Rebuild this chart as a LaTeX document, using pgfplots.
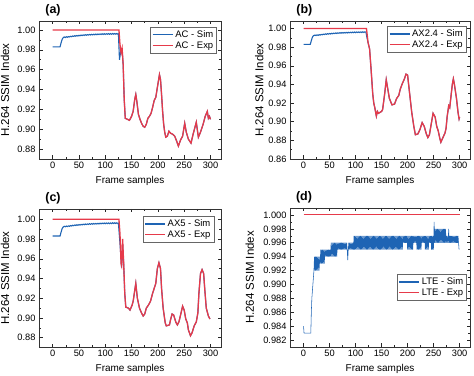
\documentclass[border=0pt]{standalone}
\usepackage{fontspec}
\setmainfont{Liberation Sans}
\usepackage{pgfplots}
\pgfplotsset{compat=1.18}
\definecolor{simblue}{RGB}{30,100,180}
\definecolor{expred}{RGB}{230,58,74}
\pgfplotsset{
  panel/.style={
    scale only axis,
    anchor=south west,
    clip mode=individual,
    tick align=inside,
    minor x tick num=1,
    minor y tick num=1,
    major tick length=3.5bp,
    minor tick length=2bp,
    every tick/.style={black!85, line width=0.5bp},
    axis line style={line width=0.6bp, black!80},
    tick label style={font=\fontsize{9.3}{10}\selectfont},
    /pgf/number format/assume math mode=true,
    scaled y ticks=false,
    xtick={0,50,100,150,200,250,300},
    xmin=-26, xmax=320,
    xlabel={Frame samples},
    xlabel style={font=\fontsize{10}{11}\selectfont, at={(axis description cs:0.5,-0.16)}, anchor=center},
    ylabel={H.264 SSIM Index},
    ylabel style={font=\fontsize{11.5}{13}\selectfont, anchor=center},
    y tick label style={/pgf/number format/.cd, fixed, fixed zerofill, precision=2},
    legend cell align=left,
    legend style={draw=black!60, line width=0.5bp, font=\fontsize{9.5}{10}\selectfont, inner sep=1.5bp, row sep=-1.5bp},
    legend image code/.code={\draw[#1, line width=1.3bp] (0bp,0bp) -- (20bp,0bp);},
  },
  simline/.style={simblue, line width=1.1bp},
  expline/.style={expred, line width=1.3bp},
}
\begin{document}
\begin{tikzpicture}
\path[use as bounding box] (0,0) rectangle (474bp,376bp);

% ---------------- (a) ----------------
\begin{axis}[panel, at={(39bp,217bp)}, width=182bp, height=138bp,
  ymin=0.870, ymax=1.009, ytick={0.88,0.90,0.92,0.94,0.96,0.98,1.00},
  ylabel style={at={(axis description cs:-0.187,0.5)}},
  legend style={at={(axis description cs:0.978,0.957)}, anchor=north east}]
\addplot[simline] coordinates {
(0,0.983)(14,0.983)(16,0.987)(18,0.9905)
(20,0.9922)(22,0.9929)(24,0.9924)(26,0.9931)(28,0.9926)(30,0.9933)(32,0.9929)(34,0.9936)(36,0.9932)(38,0.9939)
(40,0.9935)(42,0.9942)(44,0.9937)(46,0.9944)(48,0.9939)(50,0.9946)(52,0.9941)(54,0.9948)(56,0.9943)(58,0.9950)
(60,0.9945)(62,0.9952)(64,0.9946)(66,0.9953)(68,0.9948)(70,0.9955)(72,0.9949)(74,0.9956)(76,0.9950)(78,0.9957)
(80,0.9951)(82,0.9958)(84,0.9952)(86,0.9959)(88,0.9953)(90,0.9960)(92,0.9954)(94,0.9961)(96,0.9955)(98,0.9962)
(100,0.9955)(102,0.9962)(104,0.9956)(106,0.9963)(108,0.9956)(110,0.9963)(112,0.9956)(114,0.9964)(116,0.9957)(118,0.9964)
(120,0.9957)(122,0.9964)(124,0.9957)(125,0.9960)(127,0.970)(130,0.981)(132,0.980)
(134,0.965)(136,0.930)(138,0.911)(142,0.910)(146,0.909)(150,0.913)(153,0.918)(156,0.930)(158,0.935)(160,0.928)
(163,0.915)(166,0.910)(169,0.906)(172,0.903)(175,0.902)(178,0.905)(181,0.911)(184,0.913)(187,0.916)(190,0.922)
(193,0.929)(196,0.932)(199,0.942)(203,0.955)(205,0.950)(207,0.935)(209,0.918)(211,0.905)(213,0.897)(215,0.892)
(218,0.893)(221,0.898)(224,0.896)(228,0.895)(232,0.893)(235,0.889)(239,0.883)(243,0.889)(247,0.893)(251,0.906)
(254,0.897)(258,0.890)(263,0.886)(267,0.895)(270,0.901)(273,0.907)(277,0.892)(281,0.897)(286,0.905)(290,0.913)
(294,0.918)(296,0.911)(298,0.913)(300,0.910)};
\addlegendentry{AC - Sim}
\addplot[expline] coordinates {
(0,1.000)(126,1.000)(128,0.985)(130,0.977)(132,0.9815)
(134,0.965)(136,0.930)(138,0.911)(142,0.910)(146,0.909)(150,0.913)(153,0.918)(156,0.930)(158,0.935)(160,0.928)
(163,0.915)(166,0.910)(169,0.906)(172,0.903)(175,0.902)(178,0.905)(181,0.911)(184,0.913)(187,0.916)(190,0.922)
(193,0.929)(196,0.932)(199,0.942)(203,0.955)(205,0.950)(207,0.935)(209,0.918)(211,0.905)(213,0.897)(215,0.892)
(218,0.893)(221,0.898)(224,0.896)(228,0.895)(232,0.893)(235,0.889)(239,0.883)(243,0.889)(247,0.893)(251,0.906)
(254,0.897)(258,0.890)(263,0.886)(267,0.895)(270,0.901)(273,0.907)(277,0.892)(281,0.897)(286,0.905)(290,0.913)
(294,0.918)(296,0.911)(298,0.913)(300,0.910)};
\addlegendentry{AC - Exp}
\node[font=\bfseries\fontsize{12.5}{14}\selectfont] at (axis description cs:0.077,1.08) {(a)};
\end{axis}

% ---------------- (b) ----------------
\begin{axis}[panel, at={(290bp,217bp)}, width=180bp, height=138bp,
  ymin=0.860, ymax=1.008, ytick={0.86,0.88,0.90,0.92,0.94,0.96,0.98,1.00},
  ylabel style={at={(axis description cs:-0.17,0.5)}},
  legend style={at={(axis description cs:0.98,0.964)}, anchor=north east}]
\addplot[simline] coordinates {
(0,0.983)(13,0.983)(15,0.987)(17,0.9905)
(19,0.9922)(22,0.9929)(24,0.9924)(26,0.9931)(28,0.9926)(30,0.9933)(32,0.9929)(34,0.9936)(36,0.9932)(38,0.9939)
(40,0.9935)(42,0.9942)(44,0.9937)(46,0.9944)(48,0.9939)(50,0.9946)(52,0.9941)(54,0.9948)(56,0.9943)(58,0.9950)
(60,0.9945)(62,0.9952)(64,0.9946)(66,0.9953)(68,0.9948)(70,0.9955)(72,0.9949)(74,0.9956)(76,0.9950)(78,0.9957)
(80,0.9951)(82,0.9958)(84,0.9952)(86,0.9959)(88,0.9953)(90,0.9960)(92,0.9954)(94,0.9961)(96,0.9955)(98,0.9962)
(100,0.9955)(102,0.9962)(104,0.9956)(106,0.9963)(108,0.9956)(110,0.9963)(112,0.9956)(114,0.9964)(116,0.9957)(118,0.9964)
(120,0.9960)(122,0.990)(124,0.985)(127,0.978)
(130,0.955)(133,0.930)(135,0.920)(137,0.915)(140,0.906)(142,0.911)(144,0.909)(147,0.910)(150,0.911)(152,0.913)
(156,0.930)(159,0.945)(162,0.935)(165,0.925)(170,0.918)(175,0.919)(179,0.925)(183,0.928)(186,0.935)(190,0.941)
(194,0.946)(197,0.951)(200,0.950)(203,0.935)(208,0.910)(212,0.895)(215,0.886)(220,0.887)(224,0.892)(228,0.899)
(232,0.895)(236,0.887)(239,0.883)(242,0.886)(245,0.896)(249,0.909)(253,0.905)(256,0.895)(259,0.890)(262,0.882)
(264,0.878)(268,0.883)(272,0.888)(274,0.893)(276,0.905)(279,0.917)(281,0.915)(283,0.925)(286,0.940)(288,0.946)
(290,0.940)(294,0.925)(297,0.910)(299,0.903)(300,0.905)};
\addlegendentry{AX2.4 - Sim}
\addplot[expline] coordinates {
(0,1.000)(121,1.000)(124,0.985)(127,0.978)
(130,0.955)(133,0.930)(135,0.920)(137,0.915)(140,0.906)(142,0.911)(144,0.909)(147,0.910)(150,0.911)(152,0.913)
(156,0.930)(159,0.945)(162,0.935)(165,0.925)(170,0.918)(175,0.919)(179,0.925)(183,0.928)(186,0.935)(190,0.941)
(194,0.946)(197,0.951)(200,0.950)(203,0.935)(208,0.910)(212,0.895)(215,0.886)(220,0.887)(224,0.892)(228,0.899)
(232,0.895)(236,0.887)(239,0.883)(242,0.886)(245,0.896)(249,0.909)(253,0.905)(256,0.895)(259,0.890)(262,0.882)
(264,0.878)(268,0.883)(272,0.888)(274,0.893)(276,0.905)(279,0.917)(281,0.915)(283,0.925)(286,0.940)(288,0.946)
(290,0.940)(294,0.925)(297,0.910)(299,0.903)(300,0.905)};
\addlegendentry{AX2.4 - Exp}
\node[font=\bfseries\fontsize{12.5}{14}\selectfont] at (axis description cs:0.08,1.08) {(b)};
\end{axis}

% ---------------- (c) ----------------
\begin{axis}[panel, at={(39bp,29bp)}, width=182bp, height=138bp,
  ymin=0.8706, ymax=1.0104, ytick={0.88,0.90,0.92,0.94,0.96,0.98,1.00},
  ylabel style={at={(axis description cs:-0.187,0.5)}},
  legend style={at={(axis description cs:0.962,0.949)}, anchor=north east}]
\addplot[simline] coordinates {
(0,0.983)(14,0.983)(16,0.987)(18,0.9905)
(20,0.9922)(22,0.9929)(24,0.9924)(26,0.9931)(28,0.9926)(30,0.9933)(32,0.9929)(34,0.9936)(36,0.9932)(38,0.9939)
(40,0.9935)(42,0.9942)(44,0.9937)(46,0.9944)(48,0.9939)(50,0.9946)(52,0.9941)(54,0.9948)(56,0.9943)(58,0.9950)
(60,0.9945)(62,0.9952)(64,0.9946)(66,0.9953)(68,0.9948)(70,0.9955)(72,0.9949)(74,0.9956)(76,0.9950)(78,0.9957)
(80,0.9951)(82,0.9958)(84,0.9952)(86,0.9959)(88,0.9953)(90,0.9960)(92,0.9954)(94,0.9961)(96,0.9955)(98,0.9962)
(100,0.9955)(102,0.9962)(104,0.9956)(106,0.9963)(108,0.9956)(110,0.9963)(112,0.9956)(114,0.9964)(116,0.9957)(118,0.9964)
(120,0.9957)(122,0.9964)(124,0.9957)(125,0.9960)(128,0.975)(131,0.951)(133,0.975)(135,0.955)
(137,0.925)(139,0.911)(144,0.910)(147,0.908)(151,0.913)(153,0.917)(158,0.935)(161,0.920)(165,0.910)(169,0.905)
(172,0.902)(175,0.904)(178,0.910)(182,0.913)(186,0.917)(190,0.925)(193,0.930)(196,0.935)(199,0.950)(202,0.956)
(205,0.950)(207,0.930)(210,0.910)(214,0.895)(216,0.892)(222,0.893)(224,0.898)(227,0.904)(230,0.903)(234,0.896)
(237,0.893)(240,0.896)(244,0.905)(247,0.912)(250,0.908)(253,0.899)(256,0.895)(258,0.888)(262,0.882)(265,0.885)
(269,0.892)(273,0.896)(276,0.905)(278,0.925)(281,0.945)(284,0.949)(287,0.945)(289,0.930)(292,0.910)(296,0.902)
(299,0.899)};
\addlegendentry{AX5 - Sim}
\addplot[expline] coordinates {
(0,1.000)(126,1.000)(128,0.985)(130,0.955)(131,0.953)(133,0.980)(135,0.955)
(137,0.925)(139,0.911)(144,0.910)(147,0.908)(151,0.913)(153,0.917)(158,0.935)(161,0.920)(165,0.910)(169,0.905)
(172,0.902)(175,0.904)(178,0.910)(182,0.913)(186,0.917)(190,0.925)(193,0.930)(196,0.935)(199,0.950)(202,0.956)
(205,0.950)(207,0.930)(210,0.910)(214,0.895)(216,0.892)(222,0.893)(224,0.898)(227,0.904)(230,0.903)(234,0.896)
(237,0.893)(240,0.896)(244,0.905)(247,0.912)(250,0.908)(253,0.899)(256,0.895)(258,0.888)(262,0.882)(265,0.885)
(269,0.892)(273,0.896)(276,0.905)(278,0.925)(281,0.945)(284,0.949)(287,0.945)(289,0.930)(292,0.910)(296,0.902)
(299,0.899)};
\addlegendentry{AX5 - Exp}
\node[font=\bfseries\fontsize{12.5}{14}\selectfont] at (axis description cs:0.077,1.08) {(c)};
\end{axis}

% ---------------- (d) ----------------
\begin{axis}[panel, at={(290bp,29bp)}, width=180bp, height=139bp,
  ymin=0.981, ymax=1.001,
  ytick={0.982,0.984,0.986,0.988,0.990,0.992,0.994,0.996,0.998,1.000},
  y tick label style={/pgf/number format/.cd, fixed, fixed zerofill, precision=3},
  ylabel style={at={(axis description cs:-0.224,0.5)}},
  legend style={at={(axis description cs:0.983,0.525)}, anchor=north east}]
\addplot[simblue, line width=0.55bp] coordinates {
(0,0.984)(1,0.983)(14,0.983)(15,0.986)(16,0.988)(18,0.990)(19,0.991)(20,0.992)
(21,0.994)(22,0.992)(23,0.994)(24,0.992)(25,0.994)(26,0.992)(27,0.994)(28,0.992)(29,0.994)(30,0.992)(31,0.994)(32,0.993)
(33,0.995)(34,0.993)(35,0.995)(36,0.993)(37,0.995)(38,0.993)(39,0.995)(40,0.993)(41,0.995)(42,0.994)
(43,0.995)(44,0.994)(45,0.995)(46,0.994)(47,0.995)(48,0.994)(49,0.995)(50,0.994)(51,0.995)(52,0.994)
(53,0.996)(54,0.994)(55,0.996)(56,0.994)(57,0.996)(58,0.994)(59,0.996)(60,0.994)(61,0.996)(62,0.994)(63,0.996)(64,0.994)(65,0.996)(66,0.995)
(67,0.996)(68,0.995)(69,0.996)(70,0.995)(71,0.996)(72,0.995)(73,0.996)(74,0.995)(75,0.996)(76,0.995)(77,0.996)(78,0.995)
(79,0.996)(80,0.995)(81,0.996)(82,0.995)(83,0.996)(84,0.995)(85,0.9935)(86,0.995)(87,0.996)(88,0.995)(89,0.996)(90,0.995)
(91,0.996)(92,0.995)(93,0.996)(94,0.995)(95,0.996)(96,0.995)
(97,0.997)(98,0.995)(99,0.997)(100,0.995)(101,0.997)(102,0.995)(103,0.997)(104,0.995)(105,0.997)(106,0.995)
(107,0.997)(108,0.995)(109,0.997)(110,0.995)(111,0.997)(112,0.995)(113,0.997)(114,0.995)(115,0.997)(116,0.995)
(117,0.997)(118,0.995)(119,0.997)(120,0.995)(121,0.997)(122,0.995)(123,0.997)(124,0.995)(125,0.997)(126,0.995)
(127,0.997)(128,0.995)(129,0.997)(130,0.995)(131,0.997)(132,0.995)(133,0.997)(134,0.995)(135,0.997)(136,0.995)
(137,0.997)(138,0.995)(139,0.997)(140,0.995)(141,0.997)(142,0.995)(143,0.997)(144,0.995)(145,0.997)(146,0.995)
(147,0.997)(148,0.995)(149,0.997)(150,0.995)(151,0.997)(152,0.995)(153,0.997)(154,0.995)(155,0.997)(156,0.995)
(157,0.997)(158,0.995)(159,0.997)(160,0.995)(161,0.997)(162,0.995)(163,0.997)(164,0.995)(165,0.997)(166,0.995)
(167,0.997)(168,0.995)(169,0.997)(170,0.995)(171,0.997)(172,0.995)(173,0.997)(174,0.995)(175,0.997)(176,0.995)
(177,0.997)(178,0.995)(179,0.997)(180,0.995)(181,0.997)(182,0.995)(183,0.997)(184,0.995)(185,0.997)(186,0.995)
(187,0.997)(188,0.995)(189,0.997)(190,0.995)(191,0.997)(192,0.996)
(193,0.997)(194,0.996)(195,0.997)(196,0.996)(197,0.997)(198,0.996)(199,0.997)(200,0.995)
(201,0.997)(202,0.995)(203,0.997)(204,0.995)(205,0.997)(206,0.995)(207,0.997)(208,0.995)(209,0.997)(210,0.995)(211,0.997)(212,0.996)
(213,0.997)(214,0.996)(215,0.997)(216,0.996)(217,0.997)(218,0.995)
(219,0.997)(220,0.995)(221,0.997)(222,0.995)(223,0.997)(224,0.995)(225,0.997)(226,0.995)(227,0.997)(228,0.996)
(229,0.997)(230,0.996)(231,0.997)(232,0.996)(233,0.997)(234,0.995)
(235,0.997)(236,0.995)(237,0.997)(238,0.995)(239,0.997)(240,0.995)(241,0.997)(242,0.996)
(243,0.997)(244,0.996)(245,0.997)(246,0.995)(247,0.997)(248,0.995)(249,0.997)(250,0.995)
(251,0.999)(252,0.996)
(253,0.998)(254,0.996)(255,0.998)(256,0.996)(257,0.998)(258,0.996)(259,0.998)(260,0.996)(261,0.998)(262,0.996)
(263,0.998)(264,0.996)(265,0.998)(266,0.996)(267,0.998)(268,0.996)(269,0.998)(270,0.996)(271,0.998)(272,0.996)
(273,0.998)(274,0.996)(275,0.997)(276,0.996)(277,0.997)(278,0.996)(279,0.998)(280,0.996)
(281,0.997)(282,0.996)(283,0.997)(284,0.996)(285,0.997)(286,0.996)(287,0.997)(288,0.996)(289,0.997)(290,0.996)
(291,0.997)(292,0.996)(293,0.997)(294,0.996)(295,0.997)(296,0.996)(297,0.997)(298,0.996)(299,0.995)};
\addlegendentry{LTE - Sim}
\addplot[expline, line width=1bp] coordinates {(0,1.000)(300,1.000)};
\addlegendentry{LTE - Exp}
\node[font=\bfseries\fontsize{12.5}{14}\selectfont] at (axis description cs:0.078,1.077) {(d)};
\end{axis}
\end{tikzpicture}
\end{document}
